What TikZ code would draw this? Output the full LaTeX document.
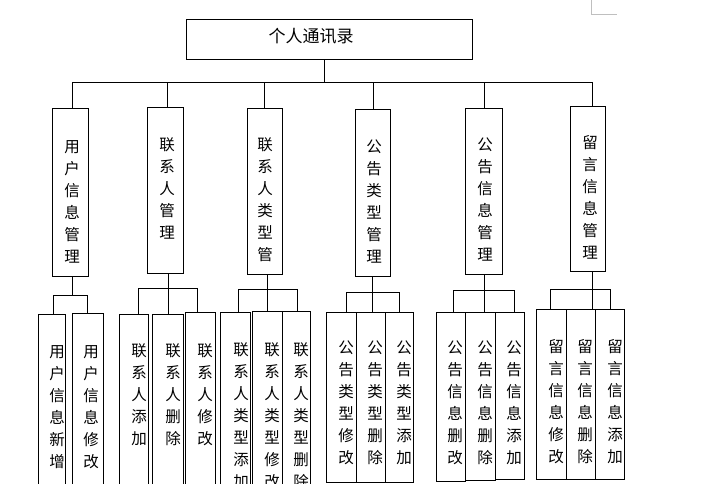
\documentclass[tikz,border=0pt]{standalone}
\usepackage{fontspec}
\newfontfamily\cjk{Noto Sans CJK SC}
\begin{document}
\begin{tikzpicture}[x=1pt,y=-1pt,
  box/.style={draw, line width=1pt, inner sep=0pt, anchor=north west},
  vt/.style={font=\cjk\fontsize{15.5}{22}\selectfont, align=center, inner sep=0pt, anchor=north},
  ttl/.style={font=\cjk\fontsize{17}{20}\selectfont, inner sep=0pt},
  ln/.style={line width=1pt},
  cornermark/.style={draw=black!25, line width=0.8pt}]
\useasboundingbox (0,0) rectangle (701,483);
\clip (0,0) rectangle (701,483);
% page corner mark
\coordinate (m1) at (591,0);
\coordinate (m2) at (591,14);
\coordinate (m3) at (617,14);
\draw[cornermark] (m1) -- (m2) -- (m3);
% title
\node[box, minimum width=286pt, minimum height=40pt] (top) at (186,19) {};
\node[ttl] (tt) at (311,36) {个人通讯录};
% level 1
\node[box, minimum width=36pt, minimum height=168pt] (b1) at (52,108) {};
\node[box, minimum width=36pt, minimum height=166pt] (b2) at (147,107) {};
\node[box, minimum width=35pt, minimum height=166pt] (b3) at (247,108) {};
\node[box, minimum width=35pt, minimum height=167pt] (b4) at (355,109) {};
\node[box, minimum width=37pt, minimum height=166pt] (b5) at (465,108) {};
\node[box, minimum width=35pt, minimum height=165pt] (b6) at (570,106) {};
\node[vt] (tb1) at (72,140) {用\\户\\信\\息\\管\\理};
\node[vt] (tb2) at (167,138) {联\\系\\人\\管\\理};
\node[vt] (tb3) at (265,138) {联\\系\\人\\类\\型\\管};
\node[vt] (tb4) at (374,140) {公\\告\\类\\型\\管\\理};
\node[vt] (tb5) at (485,138) {公\\告\\信\\息\\管\\理};
\node[vt] (tb6) at (590,135) {留\\言\\信\\息\\管\\理};
% main bus
\coordinate (tj) at (324,82);
\coordinate (j1) at (72,82);
\coordinate (j2) at (167,82);
\coordinate (j3) at (264,82);
\coordinate (j4) at (373,82);
\coordinate (j5) at (484,82);
\coordinate (j6) at (592,82);
\draw[ln] (tj |- top.south) -- (tj);
\draw[ln] (j1) -- (j6);
\foreach \i in {1,...,6} {\draw[ln] (j\i) -- (j\i |- b\i.north);}
% level 2 boxes
% group 1
\node[box, minimum width=27pt, minimum height=200pt] (c11) at (38,314) {};
\node[box, minimum width=31pt, minimum height=200pt] (c12) at (72,313) {};
\node[vt] (t11) at (57,345) {用\\户\\信\\息\\新\\增};
\node[vt] (t12) at (91,345) {用\\户\\信\\息\\修\\改};
% group 2
\node[box, minimum width=29pt, minimum height=200pt] (c21) at (119,314) {};
\node[box, minimum width=31pt, minimum height=200pt] (c22) at (152,314) {};
\node[box, minimum width=30pt, minimum height=200pt] (c23) at (185,312) {};
\node[vt] (t21) at (139,344) {联\\系\\人\\添\\加};
\node[vt] (t22) at (173,344) {联\\系\\人\\删\\除};
\node[vt] (t23) at (205,344) {联\\系\\人\\修\\改};
% group 3
\node[box, minimum width=30pt, minimum height=200pt] (c31) at (220,312) {};
\node[box, minimum width=30pt, minimum height=200pt] (c32) at (252,311) {};
\node[box, minimum width=28pt, minimum height=200pt] (c33) at (282,311) {};
\node[vt] (t31) at (241,343) {联\\系\\人\\类\\型\\添\\加};
\node[vt] (t32) at (272,343) {联\\系\\人\\类\\型\\修\\改};
\node[vt] (t33) at (301,343) {联\\系\\人\\类\\型\\删\\除};
% group 4
\node[box, minimum width=30pt, minimum height=170pt] (c41) at (326,312) {};
\node[box, minimum width=29pt, minimum height=170pt] (c42) at (356,312) {};
\node[box, minimum width=28pt, minimum height=170pt] (c43) at (385,312) {};
\node[vt] (t41) at (346,341) {公\\告\\类\\型\\修\\改};
\node[vt] (t42) at (375,341) {公\\告\\类\\型\\删\\除};
\node[vt] (t43) at (404,341) {公\\告\\类\\型\\添\\加};
% group 5
\node[box, minimum width=29pt, minimum height=169pt] (c51) at (436,312) {};
\node[box, minimum width=30pt, minimum height=168pt] (c52) at (465,312) {};
\node[box, minimum width=29pt, minimum height=167pt] (c53) at (495,312) {};
\node[vt] (t51) at (455,341) {公\\告\\信\\息\\删\\改};
\node[vt] (t52) at (485,341) {公\\告\\信\\息\\删\\除};
\node[vt] (t53) at (514,341) {公\\告\\信\\息\\添\\加};
% group 6
\node[box, minimum width=30pt, minimum height=170pt] (c61) at (536,309) {};
\node[box, minimum width=29pt, minimum height=170pt] (c62) at (566,309) {};
\node[box, minimum width=29pt, minimum height=170pt] (c63) at (595,309) {};
\node[vt] (t61) at (556,339) {留\\言\\信\\息\\修\\改};
\node[vt] (t62) at (585,339) {留\\言\\信\\息\\删\\除};
\node[vt] (t63) at (615,339) {留\\言\\信\\息\\添\\加};
% group connectors
\coordinate (h1) at (72,295);
\coordinate (k11) at (53,295);
\coordinate (k12) at (87,295);
\draw[ln] (h1 |- b1.south) -- (h1);
\draw[ln] (k11 |- c11.north) -- (k11) -- (k12) -- (k12 |- c12.north);
\coordinate (h2) at (168,288);
\coordinate (k21) at (138,288);
\coordinate (k22) at (168,288);
\coordinate (k23) at (197,288);
\draw[ln] (h2 |- b2.south) -- (h2);
\draw[ln] (k21 |- c21.north) -- (k21) -- (k23) -- (k23 |- c23.north);
\draw[ln] (k22) -- (k22 |- c22.north);
\coordinate (h3) at (267,289);
\coordinate (k31) at (238,289);
\coordinate (k32) at (267,289);
\coordinate (k33) at (297,289);
\draw[ln] (h3 |- b3.south) -- (h3);
\draw[ln] (k31 |- c31.north) -- (k31) -- (k33) -- (k33 |- c33.north);
\draw[ln] (k32) -- (k32 |- c32.north);
\coordinate (h4) at (372,292);
\coordinate (k41) at (346,292);
\coordinate (k42) at (372,292);
\coordinate (k43) at (399,292);
\draw[ln] (h4 |- b4.south) -- (h4);
\draw[ln] (k41 |- c41.north) -- (k41) -- (k43) -- (k43 |- c43.north);
\draw[ln] (k42) -- (k42 |- c42.north);
\coordinate (h5) at (484,290);
\coordinate (k51) at (453,290);
\coordinate (k52) at (484,290);
\coordinate (k53) at (514,290);
\draw[ln] (h5 |- b5.south) -- (h5);
\draw[ln] (k51 |- c51.north) -- (k51) -- (k53) -- (k53 |- c53.north);
\draw[ln] (k52) -- (k52 |- c52.north);
\coordinate (h6) at (592,289);
\coordinate (k61) at (550,289);
\coordinate (k62) at (592,289);
\coordinate (k63) at (610,289);
\draw[ln] (h6 |- b6.south) -- (h6);
\draw[ln] (k61 |- c61.north) -- (k61) -- (k63) -- (k63 |- c63.north);
\draw[ln] (k62) -- (k62 |- c62.north);
\end{tikzpicture}
\end{document}
